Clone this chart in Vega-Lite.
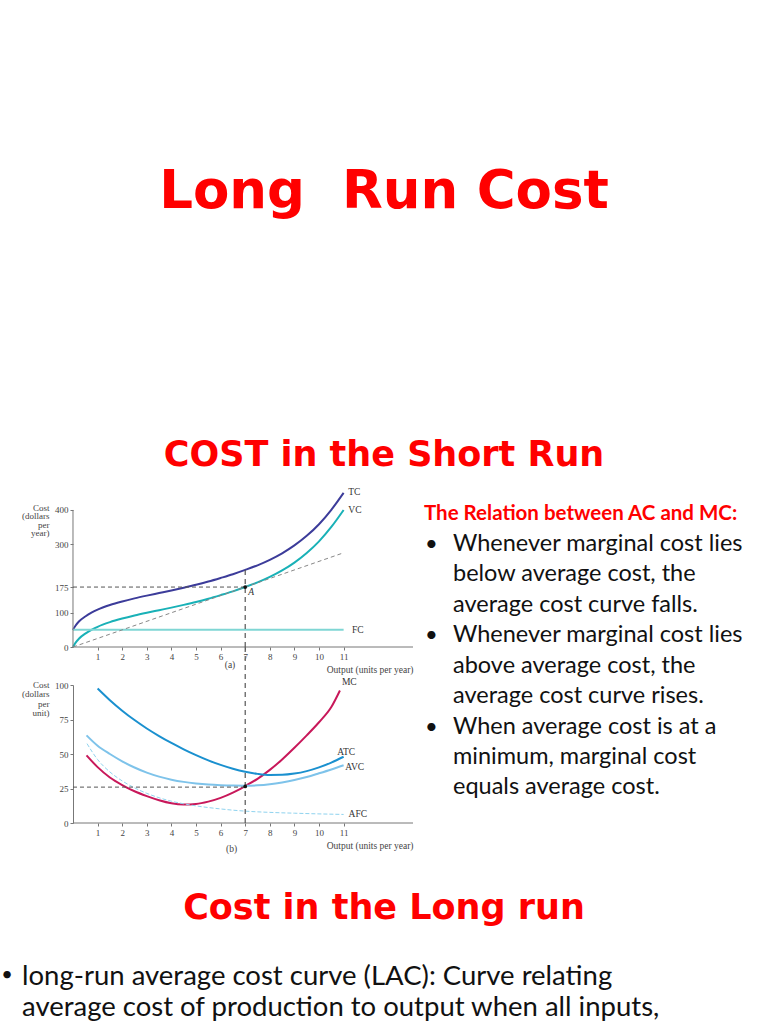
{
  "$schema": "https://vega.github.io/schema/vega-lite/v6.json",
  "padding": 0,
  "background": "#ffffff",
  "spacing": 0,
  "config": {
    "view": {"stroke": null},
    "axis": {"grid": false, "labelFont": "Liberation Serif", "titleFont": "Liberation Serif", "labelFontSize": 9, "titleFontSize": 9.5, "titleFontWeight": "normal", "labelColor": "#444", "titleColor": "#444", "domainColor": "#777", "tickColor": "#777", "tickSize": 3, "labelPadding": 2, "labelOverlap": false}
  },
  "datasets": {
    "total_cost": [
      {"curve": "TC", "output": 0, "cost": 50}, {"curve": "TC", "output": 0.1, "cost": 62}, {"curve": "TC", "output": 0.25, "cost": 75}, {"curve": "TC", "output": 0.5, "cost": 89}, {"curve": "TC", "output": 0.75, "cost": 100}, {"curve": "TC", "output": 1, "cost": 109}, {"curve": "TC", "output": 1.5, "cost": 122.5}, {"curve": "TC", "output": 2, "cost": 133}, {"curve": "TC", "output": 2.5, "cost": 142}, {"curve": "TC", "output": 3, "cost": 150}, {"curve": "TC", "output": 3.5, "cost": 157.5}, {"curve": "TC", "output": 4, "cost": 165}, {"curve": "TC", "output": 4.5, "cost": 173}, {"curve": "TC", "output": 5, "cost": 181.5}, {"curve": "TC", "output": 5.5, "cost": 191}, {"curve": "TC", "output": 6, "cost": 201.5}, {"curve": "TC", "output": 6.5, "cost": 212.5}, {"curve": "TC", "output": 7, "cost": 225}, {"curve": "TC", "output": 7.5, "cost": 238.5}, {"curve": "TC", "output": 8, "cost": 254.5}, {"curve": "TC", "output": 8.5, "cost": 273.5}, {"curve": "TC", "output": 9, "cost": 296.5}, {"curve": "TC", "output": 9.5, "cost": 324.5}, {"curve": "TC", "output": 10, "cost": 358.5}, {"curve": "TC", "output": 10.5, "cost": 400.5}, {"curve": "TC", "output": 11, "cost": 450},
      {"curve": "VC", "output": 0, "cost": 0}, {"curve": "VC", "output": 0.1, "cost": 12}, {"curve": "VC", "output": 0.25, "cost": 25}, {"curve": "VC", "output": 0.5, "cost": 39}, {"curve": "VC", "output": 0.75, "cost": 50}, {"curve": "VC", "output": 1, "cost": 59}, {"curve": "VC", "output": 1.5, "cost": 72.5}, {"curve": "VC", "output": 2, "cost": 83}, {"curve": "VC", "output": 2.5, "cost": 92}, {"curve": "VC", "output": 3, "cost": 100}, {"curve": "VC", "output": 3.5, "cost": 107.5}, {"curve": "VC", "output": 4, "cost": 115}, {"curve": "VC", "output": 4.5, "cost": 123}, {"curve": "VC", "output": 5, "cost": 131.5}, {"curve": "VC", "output": 5.5, "cost": 141}, {"curve": "VC", "output": 6, "cost": 151.5}, {"curve": "VC", "output": 6.5, "cost": 162.5}, {"curve": "VC", "output": 7, "cost": 175}, {"curve": "VC", "output": 7.5, "cost": 188.5}, {"curve": "VC", "output": 8, "cost": 204.5}, {"curve": "VC", "output": 8.5, "cost": 223.5}, {"curve": "VC", "output": 9, "cost": 246.5}, {"curve": "VC", "output": 9.5, "cost": 274.5}, {"curve": "VC", "output": 10, "cost": 308.5}, {"curve": "VC", "output": 10.5, "cost": 350.5}, {"curve": "VC", "output": 11, "cost": 400},
      {"curve": "FC", "output": 0, "cost": 50}, {"curve": "FC", "output": 11, "cost": 50}
    ],
    "unit_cost": [
      {"curve": "MC", "output": 0.55, "cost": 49}, {"curve": "MC", "output": 1, "cost": 40.5}, {"curve": "MC", "output": 1.5, "cost": 33}, {"curve": "MC", "output": 2, "cost": 27.5}, {"curve": "MC", "output": 2.5, "cost": 23}, {"curve": "MC", "output": 3, "cost": 19.5}, {"curve": "MC", "output": 3.5, "cost": 16.5}, {"curve": "MC", "output": 4, "cost": 14.3}, {"curve": "MC", "output": 4.5, "cost": 13.4}, {"curve": "MC", "output": 5, "cost": 13.8}, {"curve": "MC", "output": 5.5, "cost": 15.5}, {"curve": "MC", "output": 6, "cost": 18.2}, {"curve": "MC", "output": 6.5, "cost": 22}, {"curve": "MC", "output": 7, "cost": 26.8}, {"curve": "MC", "output": 7.5, "cost": 32}, {"curve": "MC", "output": 8, "cost": 38.5}, {"curve": "MC", "output": 8.5, "cost": 46}, {"curve": "MC", "output": 9, "cost": 54.5}, {"curve": "MC", "output": 9.5, "cost": 63.5}, {"curve": "MC", "output": 10, "cost": 73}, {"curve": "MC", "output": 10.5, "cost": 84}, {"curve": "MC", "output": 10.85, "cost": 96},
      {"curve": "ATC", "output": 1, "cost": 97.5}, {"curve": "ATC", "output": 1.5, "cost": 89}, {"curve": "ATC", "output": 2, "cost": 81.4}, {"curve": "ATC", "output": 2.5, "cost": 74.6}, {"curve": "ATC", "output": 3, "cost": 68.5}, {"curve": "ATC", "output": 3.5, "cost": 63}, {"curve": "ATC", "output": 4, "cost": 58}, {"curve": "ATC", "output": 4.5, "cost": 53.4}, {"curve": "ATC", "output": 5, "cost": 49.2}, {"curve": "ATC", "output": 5.5, "cost": 45.4}, {"curve": "ATC", "output": 6, "cost": 42.1}, {"curve": "ATC", "output": 6.5, "cost": 39.3}, {"curve": "ATC", "output": 7, "cost": 37.1}, {"curve": "ATC", "output": 7.5, "cost": 35.6}, {"curve": "ATC", "output": 8, "cost": 34.8}, {"curve": "ATC", "output": 8.5, "cost": 34.9}, {"curve": "ATC", "output": 9, "cost": 35.8}, {"curve": "ATC", "output": 9.5, "cost": 37.6}, {"curve": "ATC", "output": 10, "cost": 40.3}, {"curve": "ATC", "output": 10.5, "cost": 43.8}, {"curve": "ATC", "output": 11, "cost": 48},
      {"curve": "AVC", "output": 0.55, "cost": 63.5}, {"curve": "AVC", "output": 1, "cost": 56}, {"curve": "AVC", "output": 1.5, "cost": 50}, {"curve": "AVC", "output": 2, "cost": 44.7}, {"curve": "AVC", "output": 2.5, "cost": 40.2}, {"curve": "AVC", "output": 3, "cost": 36.5}, {"curve": "AVC", "output": 3.5, "cost": 33.6}, {"curve": "AVC", "output": 4, "cost": 31.4}, {"curve": "AVC", "output": 4.5, "cost": 29.8}, {"curve": "AVC", "output": 5, "cost": 28.7}, {"curve": "AVC", "output": 5.5, "cost": 27.9}, {"curve": "AVC", "output": 6, "cost": 27.4}, {"curve": "AVC", "output": 6.5, "cost": 27.1}, {"curve": "AVC", "output": 7, "cost": 27}, {"curve": "AVC", "output": 7.5, "cost": 27.3}, {"curve": "AVC", "output": 8, "cost": 28.1}, {"curve": "AVC", "output": 8.5, "cost": 29.4}, {"curve": "AVC", "output": 9, "cost": 31.1}, {"curve": "AVC", "output": 9.5, "cost": 33.3}, {"curve": "AVC", "output": 10, "cost": 36}, {"curve": "AVC", "output": 10.5, "cost": 38.8}, {"curve": "AVC", "output": 11, "cost": 41.8},
      {"curve": "AFC", "output": 0.57, "cost": 57.5}, {"curve": "AFC", "output": 1, "cost": 46}, {"curve": "AFC", "output": 1.5, "cost": 37}, {"curve": "AFC", "output": 2, "cost": 30.5}, {"curve": "AFC", "output": 2.5, "cost": 25.5}, {"curve": "AFC", "output": 3, "cost": 21.5}, {"curve": "AFC", "output": 3.5, "cost": 18.3}, {"curve": "AFC", "output": 4, "cost": 15.8}, {"curve": "AFC", "output": 4.5, "cost": 13.9}, {"curve": "AFC", "output": 5, "cost": 12.4}, {"curve": "AFC", "output": 5.5, "cost": 11.2}, {"curve": "AFC", "output": 6, "cost": 10.2}, {"curve": "AFC", "output": 6.5, "cost": 9.3}, {"curve": "AFC", "output": 7, "cost": 8.6}, {"curve": "AFC", "output": 8, "cost": 7.7}, {"curve": "AFC", "output": 9, "cost": 7.1}, {"curve": "AFC", "output": 10, "cost": 6.6}, {"curve": "AFC", "output": 11, "cost": 6.2}
    ],
    "relation_text": [
      {"line": 0, "kind": "heading", "text": "The Relation between AC and MC:"},
      {"line": 1, "kind": "body", "marker": "•", "text": "Whenever marginal cost lies"},
      {"line": 2, "kind": "body", "text": "below average cost, the"},
      {"line": 3, "kind": "body", "text": "average cost curve falls."},
      {"line": 4, "kind": "body", "marker": "•", "text": "Whenever marginal cost lies"},
      {"line": 5, "kind": "body", "text": "above average cost, the"},
      {"line": 6, "kind": "body", "text": "average cost curve rises."},
      {"line": 7, "kind": "body", "marker": "•", "text": "When average cost is at a"},
      {"line": 8, "kind": "body", "text": "minimum, marginal cost"},
      {"line": 9, "kind": "body", "text": "equals average cost."}
    ],
    "long_run_text": [
      {"line": 0, "marker": "•", "text": "long-run average cost curve (LAC): Curve relating"},
      {"line": 1, "text": "average cost of production to output when all inputs,"}
    ]
  },
  "vconcat": [
    {
      "width": 768, "height": 415,
      "data": {"values": [{"heading": "Long\u00a0\u00a0Run Cost"}]},
      "mark": {"type": "text", "font": "DejaVu Sans", "fontWeight": "bold", "fontSize": 53, "color": "#ff0000", "align": "center", "baseline": "alphabetic"},
      "encoding": {"text": {"field": "heading"}}
    },
    {
      "width": 768, "height": 71,
      "data": {"values": [{"heading": "COST in the Short Run"}]},
      "mark": {"type": "text", "font": "DejaVu Sans", "fontWeight": "bold", "fontSize": 35, "color": "#ff0000", "align": "center", "baseline": "alphabetic", "dy": 15},
      "encoding": {"text": {"field": "heading"}}
    },
    {
      "spacing": 0,
      "hconcat": [
        {
          "spacing": 38,
          "bounds": "flush",
          "resolve": {"scale": {"color": "independent"}},
          "vconcat": [
            {
              "width": 413, "height": 161,
              "title": {"text": "(a)", "orient": "bottom", "anchor": "middle", "frame": "group", "dx": 23.5, "offset": -14, "font": "Liberation Serif", "fontSize": 9.5, "fontWeight": "normal", "color": "#444"},
              "layer": [
                {
                  "data": {"name": "total_cost"},
                  "mark": {"type": "line", "strokeWidth": 2, "interpolate": "monotone"},
                  "encoding": {
                    "x": {"field": "output", "type": "quantitative", "scale": {"domain": [-2.967, 13.82], "nice": false, "zero": false},
                      "axis": {"values": [1, 2, 3, 4, 5, 6, 7, 8, 9, 10, 11], "format": "d", "tickCount": 30, "labelOverlap": false, "domain": false, "title": "Output (units per year)", "titleAnchor": "end", "titlePadding": 3}},
                    "y": {"field": "cost", "type": "quantitative", "scale": {"domain": [0, 470], "nice": false},
                      "axis": {"values": [0, 100, 175, 300, 400], "format": "d", "tickCount": 30, "labelOverlap": false, "domain": false, "offset": -73, "title": ["Cost", "(dollars", "per", "year)"], "titleAngle": 0, "titleAlign": "right", "titleBaseline": "top", "titleX": -24, "titleY": 17, "titleLineHeight": 8.5, "titleFontSize": 9}},
                    "color": {"field": "curve", "type": "nominal", "scale": {"domain": ["TC", "VC", "FC"], "range": ["#3c3c9a", "#19b1b7", "#7fd6d4"]}, "legend": null}
                  }
                },
                {
                  "data": {"values": [{"output": 0, "output_end": 13.82, "cost": 0}]},
                  "mark": {"type": "rule", "color": "#777", "strokeWidth": 1},
                  "encoding": {"x": {"field": "output", "type": "quantitative"}, "x2": {"field": "output_end"}, "y": {"field": "cost", "type": "quantitative"}}
                },
                {
                  "data": {"values": [{"output": 0, "cost": 0, "cost_end": 400}]},
                  "mark": {"type": "rule", "color": "#777", "strokeWidth": 1},
                  "encoding": {"x": {"field": "output", "type": "quantitative"}, "y": {"field": "cost", "type": "quantitative"}, "y2": {"field": "cost_end"}}
                },
                {
                  "data": {"values": [{"output": 0, "cost": 0}, {"output": 11, "cost": 275}]},
                  "mark": {"type": "line", "color": "#888", "strokeWidth": 1, "strokeDash": [4, 3]},
                  "encoding": {"x": {"field": "output", "type": "quantitative"}, "y": {"field": "cost", "type": "quantitative"}}
                },
                {
                  "data": {"values": [{"output": 0, "output_end": 7, "cost": 175}]},
                  "mark": {"type": "rule", "color": "#555", "strokeWidth": 1, "strokeDash": [4, 3]},
                  "encoding": {"x": {"field": "output", "type": "quantitative"}, "x2": {"field": "output_end"}, "y": {"field": "cost", "type": "quantitative"}}
                },
                {
                  "data": {"values": [{"output": 7, "cost": 0, "cost_end": 225}]},
                  "mark": {"type": "rule", "color": "#555", "strokeWidth": 1.2, "strokeDash": [5, 4]},
                  "encoding": {"x": {"field": "output", "type": "quantitative"}, "y": {"field": "cost", "type": "quantitative"}, "y2": {"field": "cost_end"}}
                },
                {
                  "data": {"values": [{"output": 7, "cost": 175}]},
                  "mark": {"type": "point", "filled": true, "color": "#111", "size": 14, "opacity": 1},
                  "encoding": {"x": {"field": "output", "type": "quantitative"}, "y": {"field": "cost", "type": "quantitative"}}
                },
                {
                  "data": {"values": [{"output": 7, "cost": 175, "label": "A"}]},
                  "mark": {"type": "text", "font": "Liberation Serif", "fontStyle": "italic", "fontSize": 9.5, "color": "#333", "align": "left", "baseline": "middle", "dx": 3, "dy": 5},
                  "encoding": {"x": {"field": "output", "type": "quantitative"}, "y": {"field": "cost", "type": "quantitative"}, "text": {"field": "label"}}
                },
                {
                  "data": {"values": [{"output": 11.19, "cost": 453, "label": "TC"}, {"output": 11.19, "cost": 400, "label": "VC"}, {"output": 11.34, "cost": 49, "label": "FC"}]},
                  "mark": {"type": "text", "font": "Liberation Serif", "fontSize": 9.5, "color": "#333", "align": "left", "baseline": "middle"},
                  "encoding": {"x": {"field": "output", "type": "quantitative"}, "y": {"field": "cost", "type": "quantitative"}, "text": {"field": "label"}}
                }
              ]
            },
            {
              "width": 413, "height": 138,
              "title": {"text": "(b)", "orient": "bottom", "anchor": "middle", "frame": "group", "dx": 25, "offset": -6, "font": "Liberation Serif", "fontSize": 9.5, "fontWeight": "normal", "color": "#444"},
              "layer": [
                {
                  "data": {"name": "unit_cost"},
                  "transform": [{"filter": "datum.curve !== 'AFC'"}],
                  "mark": {"type": "line", "strokeWidth": 2, "interpolate": "monotone"},
                  "encoding": {
                    "x": {"field": "output", "type": "quantitative", "scale": {"domain": [-2.967, 13.82], "nice": false, "zero": false},
                      "axis": {"values": [1, 2, 3, 4, 5, 6, 7, 8, 9, 10, 11], "format": "d", "tickCount": 30, "labelOverlap": false, "domain": false, "title": "Output (units per year)", "titleAnchor": "end", "titlePadding": 3}},
                    "y": {"field": "cost", "type": "quantitative", "scale": {"domain": [0, 100], "nice": false},
                      "axis": {"values": [0, 25, 50, 75, 100], "format": "d", "tickCount": 30, "labelOverlap": false, "offset": -73, "title": ["Cost", "(dollars", "per", "unit)"], "titleAngle": 0, "titleAlign": "right", "titleBaseline": "top", "titleX": -24, "titleY": -5, "titleLineHeight": 9.5, "titleFontSize": 9}},
                    "color": {"field": "curve", "type": "nominal", "scale": {"domain": ["MC", "ATC", "AVC"], "range": ["#c8185a", "#1a90cf", "#7ec3ea"]}, "legend": null}
                  }
                },
                {
                  "data": {"values": [{"output": 0, "output_end": 13.82, "cost": 0}]},
                  "mark": {"type": "rule", "color": "#777", "strokeWidth": 1},
                  "encoding": {"x": {"field": "output", "type": "quantitative"}, "x2": {"field": "output_end"}, "y": {"field": "cost", "type": "quantitative"}}
                },
                {
                  "data": {"name": "unit_cost"},
                  "transform": [{"filter": "datum.curve === 'AFC'"}],
                  "mark": {"type": "line", "strokeWidth": 1, "strokeDash": [4, 2], "color": "#8fd3ef", "interpolate": "monotone"},
                  "encoding": {"x": {"field": "output", "type": "quantitative"}, "y": {"field": "cost", "type": "quantitative"}}
                },
                {
                  "data": {"values": [{"output": 0, "output_end": 7, "cost": 26}]},
                  "mark": {"type": "rule", "color": "#555", "strokeWidth": 1, "strokeDash": [4, 3]},
                  "encoding": {"x": {"field": "output", "type": "quantitative"}, "x2": {"field": "output_end"}, "y": {"field": "cost", "type": "quantitative"}}
                },
                {
                  "data": {"values": [{"output": 7, "cost": 0, "cost_end": 128}]},
                  "mark": {"type": "rule", "color": "#555", "strokeWidth": 1.2, "strokeDash": [5, 4]},
                  "encoding": {"x": {"field": "output", "type": "quantitative"}, "y": {"field": "cost", "type": "quantitative"}, "y2": {"field": "cost_end"}}
                },
                {
                  "data": {"values": [{"output": 7, "cost": 26.5}]},
                  "mark": {"type": "point", "filled": true, "color": "#111", "size": 14, "opacity": 1},
                  "encoding": {"x": {"field": "output", "type": "quantitative"}, "y": {"field": "cost", "type": "quantitative"}}
                },
                {
                  "data": {"values": [{"output": 10.93, "cost": 102.4, "label": "MC"}, {"output": 10.74, "cost": 51.6, "label": "ATC"}, {"output": 11.07, "cost": 40.3, "label": "AVC"}, {"output": 11.2, "cost": 6.3, "label": "AFC"}]},
                  "mark": {"type": "text", "font": "Liberation Serif", "fontSize": 9.5, "color": "#333", "align": "left", "baseline": "middle"},
                  "encoding": {"x": {"field": "output", "type": "quantitative"}, "y": {"field": "cost", "type": "quantitative"}, "text": {"field": "label"}}
                }
              ]
            }
          ]
        },
        {
          "width": 355, "height": 377,
          "data": {"name": "relation_text"},
          "encoding": {"y": {"field": "line", "type": "quantitative", "scale": {"domain": [-1.115, 11.246], "reverse": true, "nice": false, "zero": false}, "axis": null}},
          "layer": [
            {
              "transform": [{"filter": "datum.kind === 'heading'"}],
              "mark": {"type": "text", "x": 10, "align": "left", "baseline": "alphabetic", "font": "Lato", "fontWeight": "bold", "fontSize": 20.5, "color": "#ff0000"},
              "encoding": {"text": {"field": "text"}}
            },
            {
              "transform": [{"filter": "datum.marker"}],
              "mark": {"type": "text", "x": 11, "align": "left", "baseline": "alphabetic", "font": "Lato", "fontSize": 22, "color": "#111"},
              "encoding": {"text": {"field": "marker"}}
            },
            {
              "transform": [{"filter": "datum.kind === 'body'"}],
              "mark": {"type": "text", "x": 39, "align": "left", "baseline": "alphabetic", "font": "Lato", "fontSize": 23.5, "color": "#111"},
              "encoding": {"text": {"field": "text"}}
            }
          ]
        }
      ]
    },
    {
      "width": 768, "height": 90,
      "data": {"values": [{"heading": "Cost in the Long run"}]},
      "mark": {"type": "text", "font": "DejaVu Sans", "fontWeight": "bold", "fontSize": 35, "color": "#ff0000", "align": "center", "baseline": "alphabetic", "dy": 11},
      "encoding": {"text": {"field": "heading"}}
    },
    {
      "width": 768, "height": 71,
      "data": {"name": "long_run_text"},
      "encoding": {"y": {"field": "line", "type": "quantitative", "scale": {"domain": [-1.032, 1.258], "reverse": true, "nice": false, "zero": false}, "axis": null}},
      "layer": [
        {
          "transform": [{"filter": "datum.marker"}],
          "mark": {"type": "text", "x": 7, "align": "center", "baseline": "alphabetic", "font": "Lato", "fontSize": 20, "dy": -4, "color": "#111"},
          "encoding": {"text": {"field": "marker"}}
        },
        {
          "mark": {"type": "text", "x": 22, "align": "left", "baseline": "alphabetic", "font": "Lato", "fontSize": 27.5, "color": "#111"},
          "encoding": {"text": {"field": "text"}}
        }
      ]
    }
  ]
}
